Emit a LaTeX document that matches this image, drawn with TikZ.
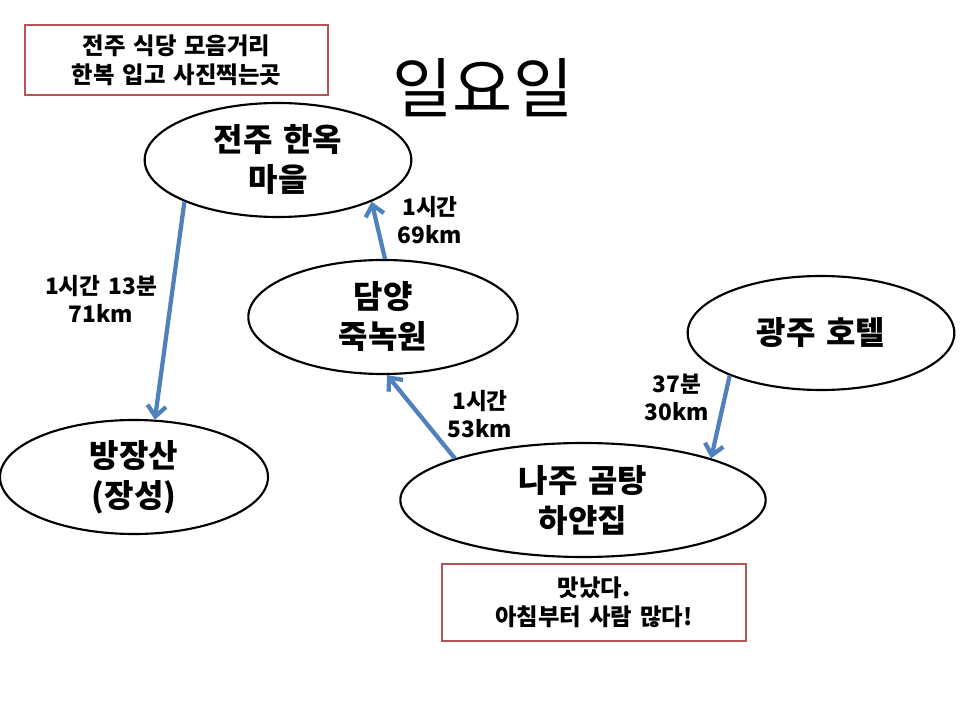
\documentclass[tikz,border=0pt]{standalone}
\usepackage{fontspec}
\setmainfont{Noto Sans CJK KR}[WordSpace=1.5]
\usetikzlibrary{shapes.geometric,arrows.meta}
\definecolor{boxred}{RGB}{180,85,85}
\definecolor{arrowblue}{RGB}{79,129,189}
\begin{document}
\begin{tikzpicture}[x=0.75pt,y=-0.75pt,
  place/.style={ellipse, draw=black, line width=1.6pt, inner sep=0pt,
    minimum height=85.5pt, align=center,
    font=\bfseries\fontsize{24}{30}\selectfont},
  note/.style={rectangle, draw=boxred, line width=1.8pt, inner sep=0pt,
    align=center, font=\bfseries\fontsize{17.5}{22}\selectfont},
  lbl/.style={align=center, inner sep=0pt, font=\bfseries\fontsize{17}{21}\selectfont},
  route/.style={draw=arrowblue, line width=3.2pt,
    -{Straight Barb[length=8pt,width=14pt]}}]
\useasboundingbox (0,0) rectangle (960,720);
\fill[white] (0,0) rectangle (960,720);

\node[note, minimum width=227pt, minimum height=52.5pt] (note1) at (176.5,60)
  {전주 식당 모음거리\\한복 입고 사진찍는곳};
\node[font=\fontsize{49}{50}\selectfont, inner sep=0pt] (title) at (483,88) {일요일};

\node[place, minimum width=200pt] (jeonju) at (278,160) {전주 한옥\\마을};
\node[place, minimum width=202pt] (damyang) at (383,317) {담양\\죽녹원};
\node[place, minimum width=200pt] (gwangju) at (821,333) {광주 호텔};
\node[place, minimum width=274pt] (naju) at (583,500) {나주 곰탕\\하얀집};
\node[place, minimum width=201pt] (bang) at (134,477) {방장산\\(장성)};

\node[note, minimum width=228pt, minimum height=58pt] (note2) at (594,602.5)
  {맛났다.\\아침부터 사람 많다!};

\draw[route] (jeonju.204) -- (bang.70);
\draw[route] (damyang.88) -- (jeonju.336);
\draw[route] (naju.162) -- (damyang.274);
\draw[route] (gwangju.205) -- (naju.18);

\node[lbl] (l1) at (101,299) {1시간 13분\\71km};
\node[lbl] (l2) at (430,220) {1시간\\69km};
\node[lbl] (l3) at (480,414) {1시간\\53km};
\node[lbl] (l4) at (677,397) {37분\\30km};
\end{tikzpicture}
\end{document}
